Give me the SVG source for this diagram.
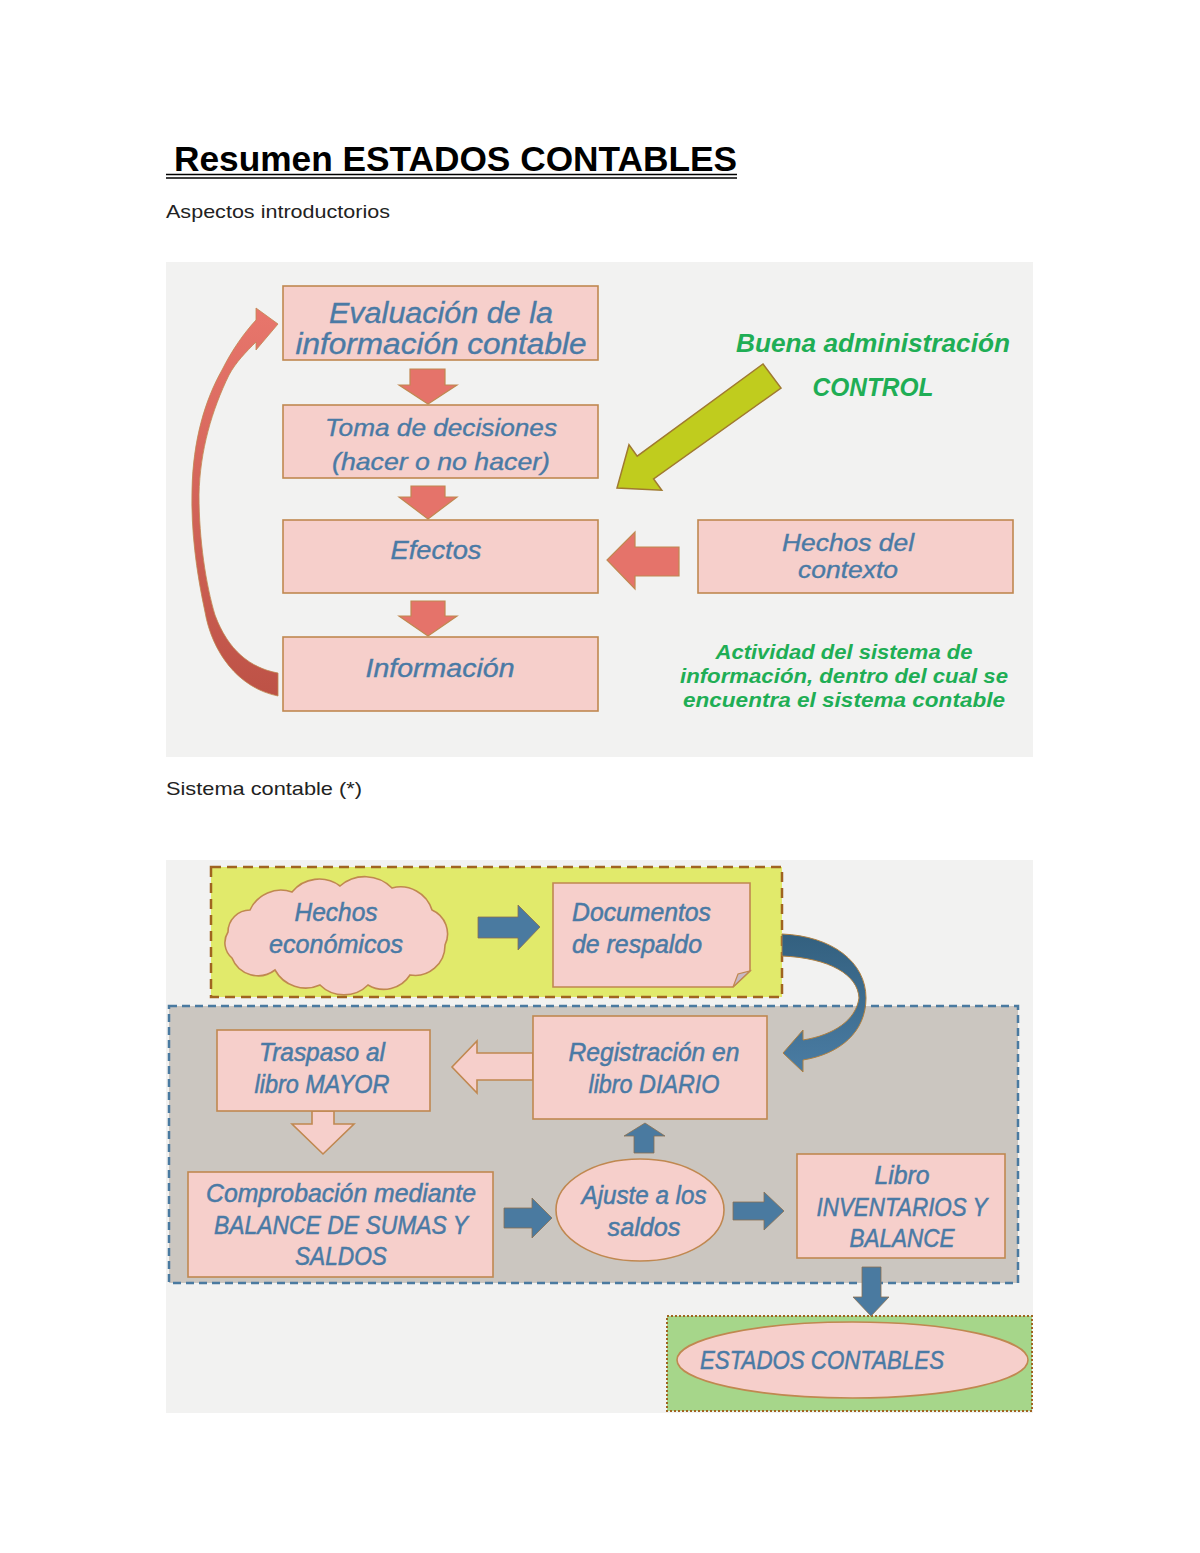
<svg xmlns="http://www.w3.org/2000/svg" width="1200" height="1553" viewBox="0 0 1200 1553">
<defs>
<style>
.box{fill:#f6cfcb;stroke:#c08850;stroke-width:1.6}
.t1{font-family:"Liberation Sans",Arial,sans-serif;font-style:italic;fill:#4a7aa5;stroke:#4a7aa5;stroke-width:0.35;text-anchor:middle}
.t2{font-family:"Liberation Sans",Arial,sans-serif;font-style:italic;fill:#4a7aa5;stroke:#4a7aa5;stroke-width:0.5;font-size:25px}
.g{font-family:"Liberation Sans",Arial,sans-serif;font-style:italic;font-weight:bold;fill:#1fae55;text-anchor:middle}
.red{fill:#e5736a;stroke:#c08850;stroke-width:1.2}
.blue{fill:#4a7aa0;stroke:#8a7050;stroke-width:0.8}
.hollow{fill:#f6cfcb;stroke:#c08850;stroke-width:1.6}
.plain{font-family:"Liberation Sans",Arial,sans-serif;fill:#222;font-size:19px}
</style>
<linearGradient id="gRed" x1="0" y1="0" x2="0" y2="1">
<stop offset="0" stop-color="#e8766c"/>
<stop offset="1" stop-color="#bd5246"/>
</linearGradient>
<linearGradient id="gBlue" x1="0" y1="0" x2="0" y2="1">
<stop offset="0" stop-color="#33607f"/>
<stop offset="1" stop-color="#4a7ca3"/>
</linearGradient>
</defs>
<rect width="1200" height="1553" fill="#ffffff"/>

<g id="header">
<text x="174" y="171" font-family="Liberation Sans,Arial,sans-serif" font-weight="bold" font-size="35" fill="#000" textLength="563" lengthAdjust="spacingAndGlyphs">Resumen ESTADOS CONTABLES</text>
<line x1="166" y1="174.5" x2="737" y2="174.5" stroke="#000" stroke-width="1.5"/>
<line x1="166" y1="178" x2="737" y2="178" stroke="#000" stroke-width="1.5"/>
<text class="plain" x="166" y="218" textLength="224" lengthAdjust="spacingAndGlyphs">Aspectos introductorios</text>
<text class="plain" x="166" y="795" textLength="196" lengthAdjust="spacingAndGlyphs">Sistema contable (*)</text>
</g>

<!-- Panel 1 -->
<rect id="panel1" x="166" y="262" width="867" height="495" fill="#f2f2f1"/>

<g id="connectors1">
<path id="loop-arrow" d="M278,696 C238,688 212,652 205,612 C196,570 191,530 192,490 C193,440 205,400 222,370 C232,350 244,333 256,320 L256,308 L278,324 L256,350 L256,342 C246,352 236,362 229,375 C212,410 200,450 199,495 C199,540 206,585 215,615 C228,650 250,668 278,673 Z" fill="url(#gRed)" stroke="#c08850" stroke-width="0.8"/>
<polygon class="red" points="410,369 445,369 445,385 457,385 428,404 399,385 410,385"/>
<polygon class="red" points="411,486 445,486 445,497 457,497 428,519 399,497 411,497"/>
<polygon class="red" points="411,601 445,601 445,616 457,616 428,636 399,616 411,616"/>
<polygon class="red" points="679,547 679,576 635,576 635,589 607,560 635,532 635,547"/>
<polygon points="763,364 781,388 653.6,478.9 661.8,490.2 617,488 629,444.8 637.2,456.1" fill="#c0cc1e" stroke="#a07a30" stroke-width="1.5"/>
</g>

<g id="n-evaluacion">
<rect class="box" x="283" y="286" width="315" height="74"/>
<text class="t1" x="441" y="323" font-size="29" textLength="224" lengthAdjust="spacingAndGlyphs">Evaluación de la</text>
<text class="t1" x="441" y="354" font-size="29" textLength="291" lengthAdjust="spacingAndGlyphs">información contable</text>
</g>
<g id="n-toma">
<rect class="box" x="283" y="405" width="315" height="73"/>
<text class="t1" x="441" y="436" font-size="24" textLength="232" lengthAdjust="spacingAndGlyphs">Toma de decisiones</text>
<text class="t1" x="441" y="470" font-size="24" textLength="218" lengthAdjust="spacingAndGlyphs">(hacer o no hacer)</text>
</g>
<g id="n-efectos">
<rect class="box" x="283" y="520" width="315" height="73"/>
<text class="t1" x="436" y="559" font-size="25" textLength="91" lengthAdjust="spacingAndGlyphs">Efectos</text>
</g>
<g id="n-informacion">
<rect class="box" x="283" y="637" width="315" height="74"/>
<text class="t1" x="440" y="677" font-size="25" textLength="149" lengthAdjust="spacingAndGlyphs">Información</text>
</g>
<g id="n-hechos-contexto">
<rect class="box" x="698" y="520" width="315" height="73"/>
<text class="t1" x="848" y="551" font-size="24" textLength="132" lengthAdjust="spacingAndGlyphs">Hechos del</text>
<text class="t1" x="848" y="578" font-size="24" textLength="100" lengthAdjust="spacingAndGlyphs">contexto</text>
</g>
<g id="n-buena">
<text class="g" x="873" y="352" font-size="26" textLength="274" lengthAdjust="spacingAndGlyphs">Buena administración</text>
<text class="g" x="873" y="396" font-size="26" textLength="121" lengthAdjust="spacingAndGlyphs">CONTROL</text>
</g>
<g id="n-actividad">
<text class="g" x="844" y="659" font-size="21" textLength="257" lengthAdjust="spacingAndGlyphs">Actividad del sistema de</text>
<text class="g" x="844" y="683" font-size="21" textLength="328" lengthAdjust="spacingAndGlyphs">información, dentro del cual se</text>
<text class="g" x="844" y="707" font-size="21" textLength="322" lengthAdjust="spacingAndGlyphs">encuentra el sistema contable</text>
</g>

<!-- Panel 2 -->
<rect id="panel2" x="166" y="860" width="867" height="553" fill="#f2f2f1"/>
<rect id="zone-yellow" x="211" y="867" width="571" height="130" fill="#e1ea6b" stroke="#a06420" stroke-width="2.5" stroke-dasharray="10,6"/>
<rect id="zone-gray" x="169" y="1006" width="849" height="277" fill="#cbc6c0" stroke="#4a7aa0" stroke-width="2.5" stroke-dasharray="8,5"/>
<rect id="zone-green" x="667" y="1316" width="365" height="95" fill="#a6d68a" stroke="#a06420" stroke-width="2" stroke-dasharray="2,2"/>

<g id="connectors2">
<polygon class="blue" points="478,917 518,917 518,905 540,927 518,950 518,938 478,938"/>
<path d="M782,934 C832,936 866,962 866,998 C866,1032 840,1054 803,1060 L803,1072 L783,1053 L803,1030 L803,1040 C834,1035 856,1020 859,998 C858,975 830,958 782,956 Z" fill="url(#gBlue)" stroke="#b08040" stroke-width="1"/>
<polygon class="hollow" points="533,1053 477,1053 477,1041 452,1067 477,1093 477,1080 533,1080"/>
<polygon class="hollow" points="312,1111 334,1111 334,1124 354,1124 323,1154 292,1124 312,1124"/>
<polygon class="blue" points="504,1208 532,1208 532,1198 552,1218 532,1238 532,1228 504,1228"/>
<polygon class="blue" points="634,1153 634,1136 624,1136 645,1123 665,1136 654,1136 654,1153"/>
<polygon class="blue" points="733,1202 764,1202 764,1192 784,1211 764,1230 764,1220 733,1220"/>
<polygon class="blue" points="862,1267 881,1267 881,1297 889,1297 871,1316 853,1297 862,1297"/>
</g>

<g id="n-hechos-economicos">
<path d="M250,910 A34,34 0 0 1 292,892 A35,35 0 0 1 340,886 A38,38 0 0 1 392,888 A33,33 0 0 1 432,910 A26,26 0 0 1 445,945 A30,30 0 0 1 410,975 A31,31 0 0 1 368,985 A34,34 0 0 1 320,985 A35,35 0 0 1 275,970 A28,28 0 0 1 232,958 A20,20 0 0 1 228,932 A22,22 0 0 1 250,910 Z" class="box"/>
<text class="t2" x="336" y="921" text-anchor="middle" textLength="83" lengthAdjust="spacingAndGlyphs">Hechos</text>
<text class="t2" x="336" y="953" text-anchor="middle" textLength="134" lengthAdjust="spacingAndGlyphs">económicos</text>
</g>
<g id="n-documentos">
<path class="box" d="M553,883 L750,883 L750,971 L733,987 L553,987 Z"/>
<path d="M750,971 L733,987 L738,974 Z" fill="#c8b8c4" stroke="#c08850" stroke-width="1.2"/>
<text class="t2" x="572" y="921" textLength="139" lengthAdjust="spacingAndGlyphs">Documentos</text>
<text class="t2" x="572" y="953" textLength="130" lengthAdjust="spacingAndGlyphs">de respaldo</text>
</g>
<g id="n-traspaso">
<rect class="box" x="217" y="1030" width="213" height="81"/>
<text class="t2" x="322" y="1061" text-anchor="middle" textLength="126" lengthAdjust="spacingAndGlyphs">Traspaso al</text>
<text class="t2" x="322" y="1093" text-anchor="middle" textLength="135" lengthAdjust="spacingAndGlyphs">libro MAYOR</text>
</g>
<g id="n-registracion">
<rect class="box" x="533" y="1016" width="234" height="103"/>
<text class="t2" x="654" y="1061" text-anchor="middle" textLength="171" lengthAdjust="spacingAndGlyphs">Registración en</text>
<text class="t2" x="654" y="1093" text-anchor="middle" textLength="131" lengthAdjust="spacingAndGlyphs">libro DIARIO</text>
</g>
<g id="n-comprobacion">
<rect class="box" x="188" y="1172" width="305" height="105"/>
<text class="t2" x="341" y="1202" text-anchor="middle" textLength="270" lengthAdjust="spacingAndGlyphs">Comprobación mediante</text>
<text class="t2" x="341" y="1234" text-anchor="middle" textLength="254" lengthAdjust="spacingAndGlyphs">BALANCE DE SUMAS Y</text>
<text class="t2" x="341" y="1265" text-anchor="middle" textLength="92" lengthAdjust="spacingAndGlyphs">SALDOS</text>
</g>
<g id="n-ajuste">
<ellipse class="box" cx="640" cy="1210" rx="84" ry="51"/>
<text class="t2" x="644" y="1204" text-anchor="middle" textLength="125" lengthAdjust="spacingAndGlyphs">Ajuste a los</text>
<text class="t2" x="644" y="1236" text-anchor="middle" textLength="73" lengthAdjust="spacingAndGlyphs">saldos</text>
</g>
<g id="n-libro">
<rect class="box" x="797" y="1154" width="208" height="104"/>
<text class="t2" x="902" y="1184" text-anchor="middle" textLength="55" lengthAdjust="spacingAndGlyphs">Libro</text>
<text class="t2" x="902" y="1216" text-anchor="middle" textLength="171" lengthAdjust="spacingAndGlyphs">INVENTARIOS Y</text>
<text class="t2" x="902" y="1247" text-anchor="middle" textLength="105" lengthAdjust="spacingAndGlyphs">BALANCE</text>
</g>
<g id="n-estados">
<ellipse class="box" cx="852.5" cy="1360" rx="175.5" ry="38"/>
<text class="t2" x="700" y="1369" textLength="244" lengthAdjust="spacingAndGlyphs">ESTADOS CONTABLES</text>
</g>
</svg>
